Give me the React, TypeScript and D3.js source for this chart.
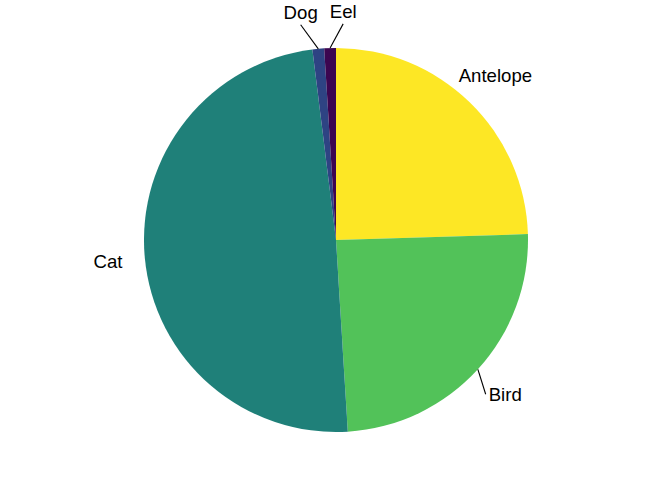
import { useEffect, useRef } from 'react';
import * as d3 from 'd3';

const animals = ['Antelope', 'Bird', 'Cat', 'Dog', 'Eel'];
const counts = [25, 25, 50, 1, 1];
const fills = ['#FDE725', '#52C259', '#1F8079', '#2E4383', '#3C0650'];
// labels that get a leader segment back to their slice
const leaderLabels = ['Bird', 'Dog', 'Eel'];

const App = () => {
  const ref = useRef<SVGSVGElement>(null);

  useEffect(() => {
    if (!ref.current) return;
    document.body.style.margin = '0';
    const svg = d3.select(ref.current);
    svg.selectAll('*').remove();

    const width = 672;
    const height = 480;
    const radius = 192;
    const labelRadius = 229;
    const fontSize = 18.6;
    const font = 'Liberation Sans, Arial, sans-serif';

    const g = svg.append('g').attr('transform', `translate(${width / 2},${height / 2})`);

    const data = animals.map((name, i) => ({ name, value: counts[i], fill: fills[i] }));
    const pie = d3.pie<typeof data[number]>().sort(null).value(d => d.value);
    const arcs = pie(data);
    const arc = d3.arc<d3.PieArcDatum<typeof data[number]>>().innerRadius(0).outerRadius(radius);

    g.selectAll('path.slice')
      .data(arcs)
      .join('path')
      .attr('class', 'slice')
      .attr('fill', d => d.data.fill)
      .attr('d', arc);

    // label placement: push out along the mid angle, then spread overlapping ones
    const measure = g.append('text').style('font-family', font).style('font-size', `${fontSize}px`);
    const labels = arcs.map(a => {
      const mid = (a.startAngle + a.endAngle) / 2;
      measure.text(a.data.name);
      const w = (measure.node() as SVGTextElement).getComputedTextLength();
      return {
        name: a.data.name,
        ax: radius * Math.sin(mid),
        ay: -radius * Math.cos(mid),
        x: labelRadius * Math.sin(mid),
        y: -labelRadius * Math.cos(mid),
        w,
        h: fontSize * 1.05,
      };
    });
    measure.remove();

    const gap = 12;
    for (let iter = 0; iter < 50; iter++) {
      for (let i = 0; i < labels.length; i++) {
        for (let j = i + 1; j < labels.length; j++) {
          const a = labels[i];
          const b = labels[j];
          const overlapX = (a.w + b.w) / 2 + gap - Math.abs(a.x - b.x);
          const overlapY = (a.h + b.h) / 2 - Math.abs(a.y - b.y);
          if (overlapX > 0 && overlapY > 0) {
            const s = a.x < b.x ? -1 : 1;
            a.x += (s * overlapX) / 2;
            b.x -= (s * overlapX) / 2;
          }
        }
      }
    }

    // leader segments end at the nearest edge midpoint of the padded label box
    const pad = 3;
    labels
      .filter(l => leaderLabels.includes(l.name))
      .forEach(l => {
        const hw = l.w / 2 + pad;
        const hh = l.h / 2 + pad;
        const candidates: [number, number][] = [
          [l.x - hw, l.y],
          [l.x + hw, l.y],
          [l.x, l.y - hh],
          [l.x, l.y + hh],
        ];
        const end = candidates.reduce((best, c) =>
          Math.hypot(c[0] - l.ax, c[1] - l.ay) < Math.hypot(best[0] - l.ax, best[1] - l.ay) ? c : best
        );
        g.append('line')
          .attr('x1', l.ax)
          .attr('y1', l.ay)
          .attr('x2', end[0])
          .attr('y2', end[1])
          .attr('stroke', '#000')
          .attr('stroke-width', 1.1);
      });

    g.selectAll('text.label')
      .data(labels)
      .join('text')
      .attr('class', 'label')
      .attr('x', d => d.x)
      .attr('y', d => d.y)
      .attr('dy', '0.36em')
      .attr('text-anchor', 'middle')
      .style('font-family', font)
      .style('font-size', `${fontSize}px`)
      .attr('fill', '#000')
      .text(d => d.name);
  }, []);

  return <svg ref={ref} width={672} height={480} style={{ display: 'block', background: '#fff' }} />;
};

export default App;
